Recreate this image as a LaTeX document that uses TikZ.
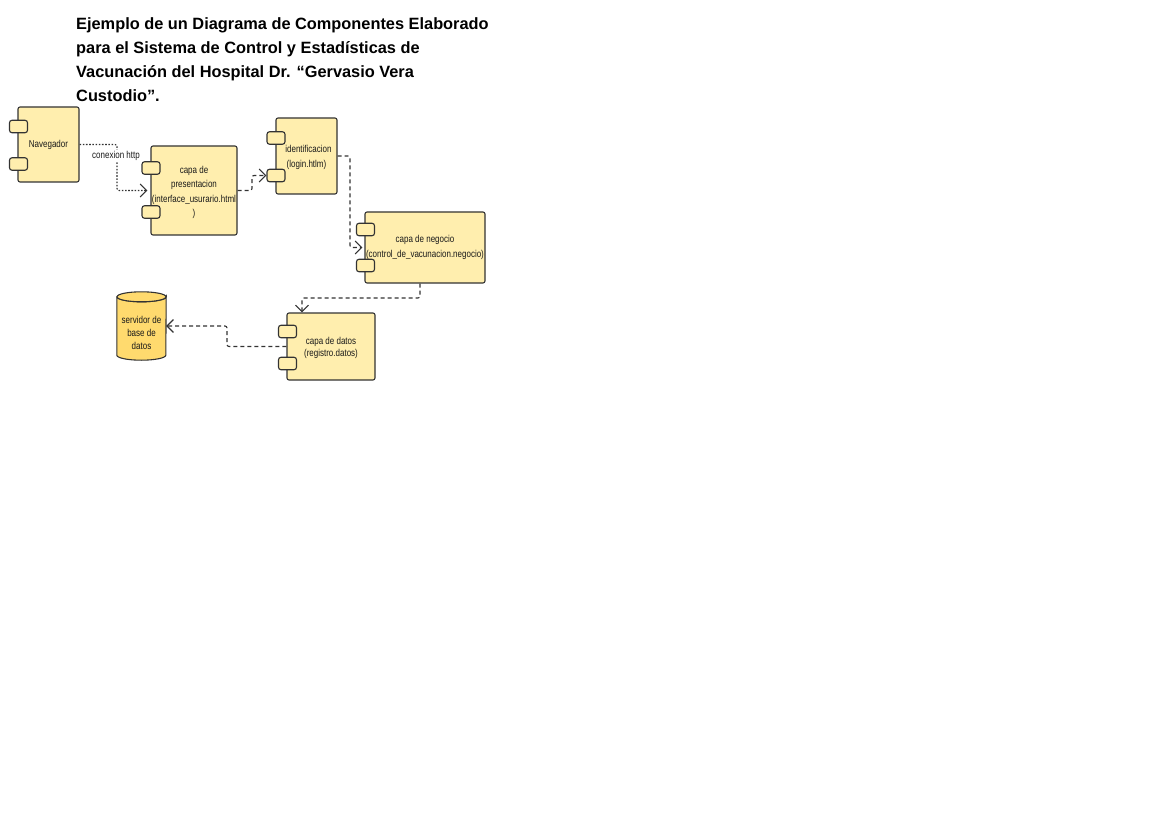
\documentclass[tikz,border=0pt]{standalone}
\usepackage{fontspec}
\setmainfont{Liberation Sans}
\newfontfamily\narrowf[FakeStretch=0.8]{Liberation Sans}
\usetikzlibrary{arrows.meta,calc}
\definecolor{compfill}{RGB}{255,238,174}
\definecolor{dbfill}{RGB}{255,218,110}
\definecolor{edge}{RGB}{51,51,51}
\tikzset{
  comp/.style={draw=edge, line width=1.1pt, fill=compfill, rounded corners=2pt, inner sep=0pt,
    align=center, font=\narrowf\fontsize{10}{14.3}\selectfont, text=black!90},
  comptext/.style={inner sep=0pt, align=center, font=\narrowf\fontsize{10}{14.3}\selectfont, text=black!90},
  port/.style={draw=edge, line width=1.1pt, fill=compfill, rounded corners=2.5pt, inner sep=0pt,
    minimum width=18pt, minimum height=12.5pt},
  titletext/.style={anchor=base west, inner sep=0pt, font=\bfseries\fontsize{16.35}{20}\selectfont},
  conn/.style={draw=edge, line width=1.1pt, rounded corners=2pt,
    -{Straight Barb[length=6.5pt,width=13pt,line width=1.1pt]}},
  dotconn/.style={conn, dash pattern=on 1.6pt off 1.6pt},
  dashconn/.style={conn, dash pattern=on 4pt off 3pt},
  lbl/.style={font=\narrowf\fontsize{10}{12}\selectfont, text=black!90, inner sep=0pt}
}
\begin{document}
\begin{tikzpicture}[x=1pt,y=-1pt]
\useasboundingbox (0,0) rectangle (1154,813);
\fill[white] (0,0) rectangle (1154,813);
% title
\node[titletext] (t1) at (76,30) {Ejemplo de un Diagrama de Componentes Elaborado};
\node[titletext] (t2) at (76,54) {para el Sistema de Control y Estadísticas de};
\node[titletext] (t3) at (76,78) {Vacunación del Hospital Dr. “Gervasio Vera};
\node[titletext] (t4) at (76,102) {Custodio”.};
% components
\node[comp, minimum width=61pt, minimum height=75pt] (nav) at (48.5,144.5) {Navegador};
\node[port] (navp1) at (18.5,126.5) {};
\node[port] (navp2) at (18.5,164) {};

\node[comp, minimum width=86pt, minimum height=89pt] (pres) at (194,190.5) {};
\node[comptext] (prestext) at (194,192.5)
  {capa de\\presentacion\\(interface\_usurario.html\\)};
\node[port] (presp1) at (151,168) {};
\node[port] (presp2) at (151,212) {};

\node[comp, minimum width=61pt, minimum height=76pt] (ide) at (306.5,156) {};
\node[comptext] (idetext) at (306.5,157.5) {\hspace*{4pt}identificacion\\(login.htlm)};
\node[port] (idep1) at (276,138) {};
\node[port] (idep2) at (276,175.5) {};

\node[comp, minimum width=120pt, minimum height=71pt] (neg) at (425,247.5)
  {capa de negocio\\(control\_de\_vacunacion.negocio)};
\node[port] (negp1) at (365.5,229.5) {};
\node[port] (negp2) at (365.5,265.5) {};

\node[comp, minimum width=88pt, minimum height=67pt] (dat) at (331,346.5) {};
\node[comptext, font=\narrowf\fontsize{10}{12.5}\selectfont] (dattext) at (331,348)
  {capa de datos\\(registro.datos)};
\node[port] (datp1) at (287.5,331.5) {};
\node[port] (datp2) at (287.5,363.5) {};

% database cylinder
\node[minimum width=49pt, minimum height=68pt, inner sep=0pt] (db) at (141.5,326) {};
\draw[draw=edge, line width=1.1pt, fill=dbfill]
  ($(db.north west)+(0,5)$) -- ($(db.south west)+(0,-5)$)
  arc[start angle=180, end angle=360, x radius=24.5pt, y radius=5pt]
  -- ($(db.north east)+(0,5)$)
  arc[start angle=0, end angle=-180, x radius=24.5pt, y radius=5pt] -- cycle;
\draw[draw=edge, line width=1.1pt, fill=dbfill]
  ($(db.north)+(0,5)$) ellipse[x radius=24.5pt, y radius=5pt];
\node[comptext, font=\narrowf\fontsize{10}{13}\selectfont] (dbtext) at (141.5,333)
  {servidor de\\base de\\datos};

% connectors
\draw[dotconn] (nav.east) -- (117,144.5) -- (117,190.5) -- ([xshift=-3pt]pres.west);
\node[lbl, fill=white, inner sep=1pt] (httplbl) at (116,156) {conexion http};
\draw[dashconn] (pres.east) -- (252,190.5) -- (252,175.5) -- (idep2.west);
\draw[dashconn] (ide.east) -- (350,156) -- (350,247.5) -- ([xshift=-2pt]neg.west);
\draw[dashconn] ([xshift=-5pt]neg.south) -- (420,298) -- (302,298) -- ([xshift=-29pt]dat.north);
\draw[dashconn] (dat.west) -- (227,346.5) -- (227,326) -- (db.east);
\end{tikzpicture}
\end{document}
